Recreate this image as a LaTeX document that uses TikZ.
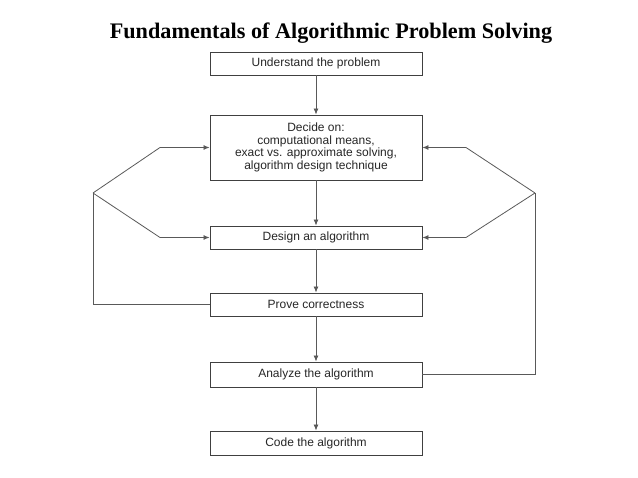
\documentclass[tikz,border=0pt]{standalone}
\usepackage{fontspec}
\setmainfont{Liberation Serif}
\newfontfamily\boxfont{Liberation Sans}
\begin{document}
\begin{tikzpicture}[x=1pt,y=-1pt,
  stepbox/.style={draw=black!75,line width=0.9pt,minimum width=212pt,align=center,text=black!85,font=\boxfont\fontsize{12}{12.5}\selectfont,inner sep=0pt},
  arr/.style={-{Latex[length=6pt,width=5pt]},line width=0.8pt,draw=black!65},ln/.style={line width=0.8pt,draw=black!65}]
\usetikzlibrary{arrows.meta}
\useasboundingbox (0,0) rectangle (638,478);
\node[font=\bfseries\fontsize{22.2}{24}\selectfont] (t) at (331,33) {Fundamentals of Algorithmic Problem Solving};
\node[stepbox,minimum height=23pt] (b1) at (316,63.5) {Understand the problem};
\node[stepbox,minimum height=65pt] (b2) at (316,147.5) {Decide on:\\computational means,\\exact vs. approximate solving,\\algorithm design technique};
\node[stepbox,minimum height=23pt] (b3) at (316,237.5) {Design an algorithm};
\node[stepbox,minimum height=23pt] (b4) at (316,304.5) {Prove correctness};
\node[stepbox,minimum height=25pt] (b5) at (316,374.5) {Analyze the algorithm};
\node[stepbox,minimum height=24pt] (b6) at (316,443) {Code the algorithm};
\draw[arr] (b1) -- (b2);
\draw[arr] (b2) -- (b3);
\draw[arr] (b3) -- (b4);
\draw[arr] (b4) -- (b5);
\draw[arr] (b5) -- (b6);
\coordinate (lb) at (93,193);
\coordinate (lt) at (160,147.5);
\coordinate (ld) at (160,237.5);
\coordinate (rb) at (535,193);
\coordinate (rt) at (466,147.5);
\coordinate (rd) at (466,237.5);
\draw[ln] (b4.west) -| (lb);
\draw[arr] (lb) -- (lt) -- (b2.west);
\draw[arr] (lb) -- (ld) -- (b3.west);
\draw[ln] (b5.east) -| (rb);
\draw[arr] (rb) -- (rt) -- (b2.east);
\draw[arr] (rb) -- (rd) -- (b3.east);
\end{tikzpicture}
\end{document}
